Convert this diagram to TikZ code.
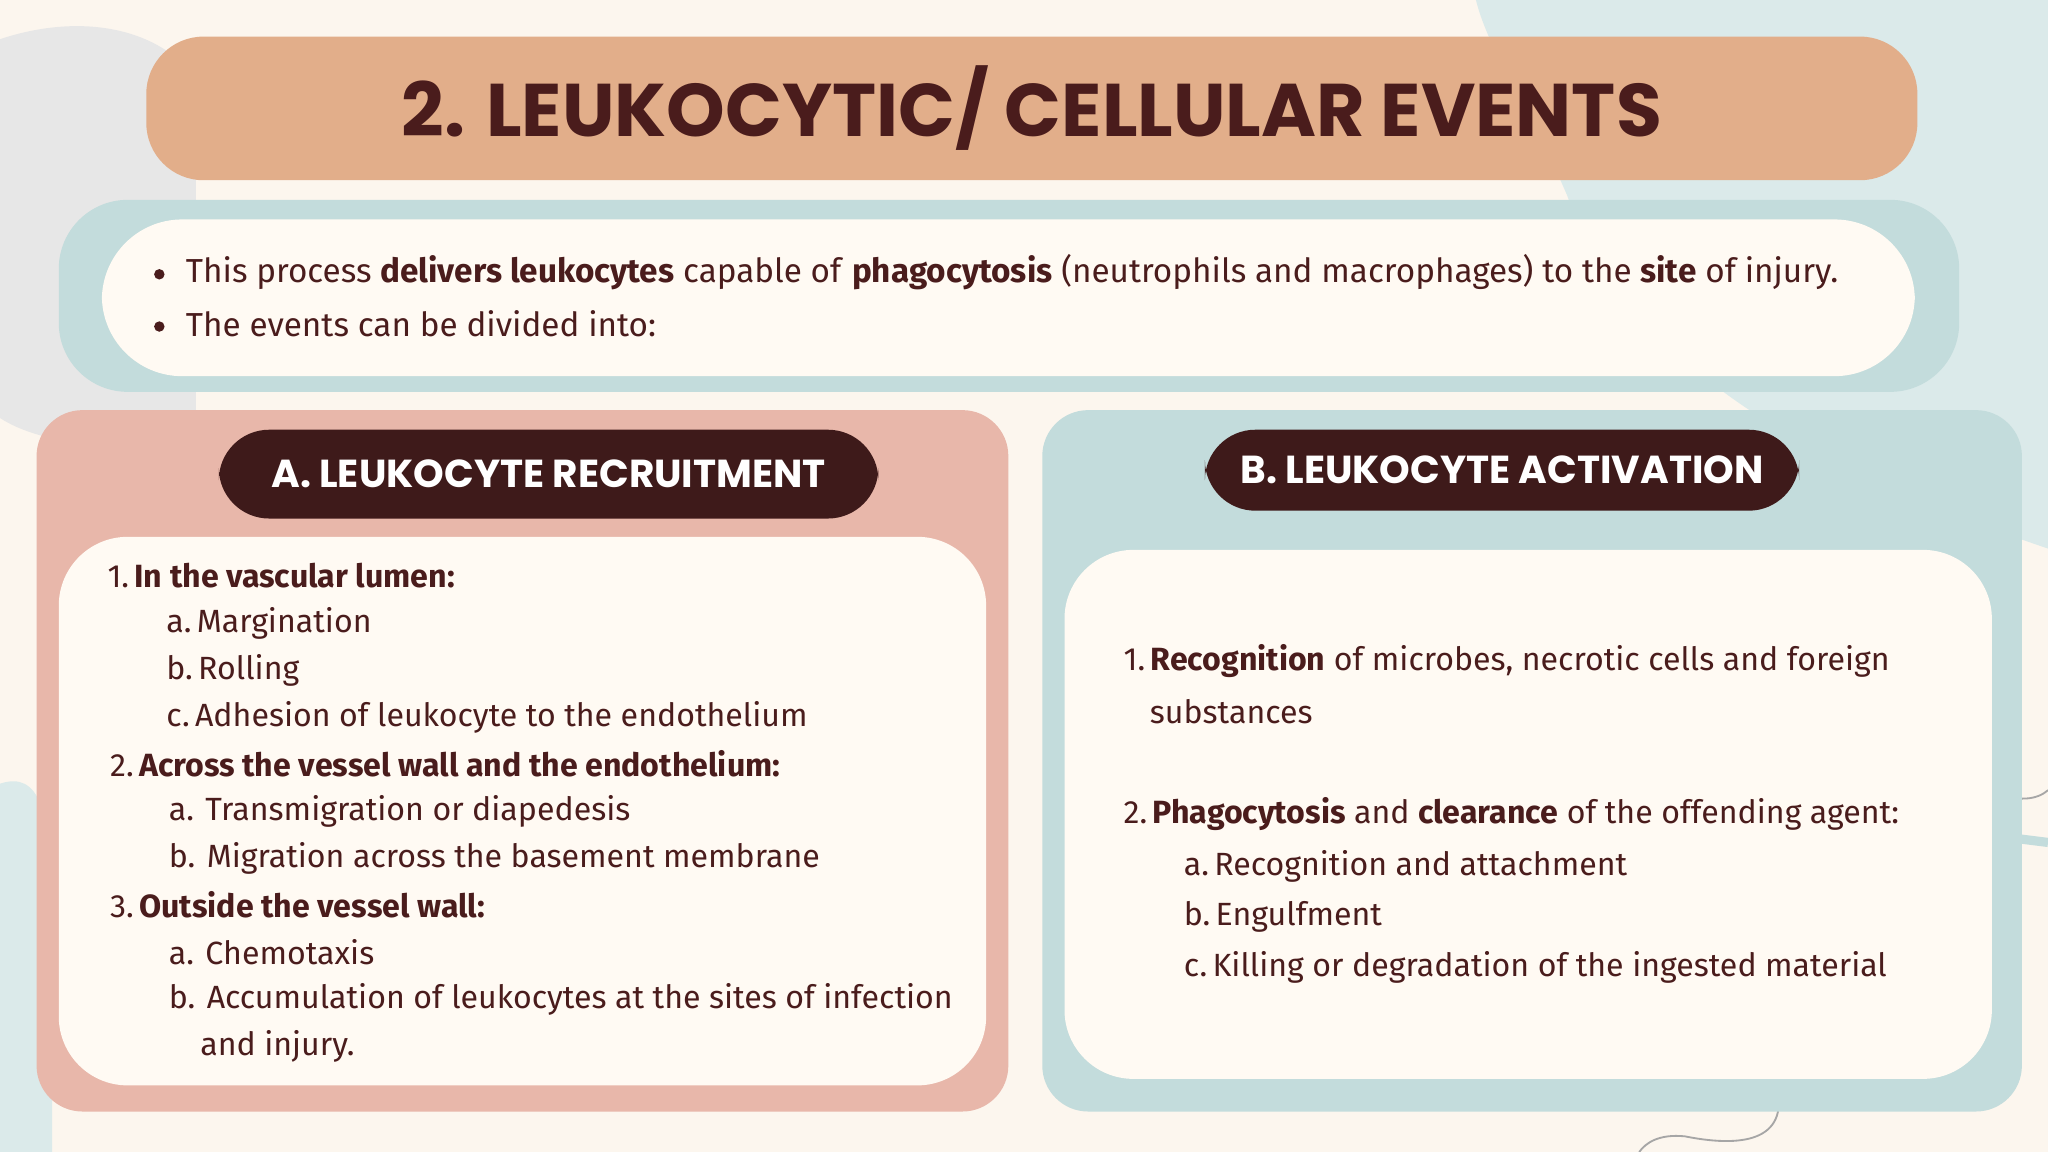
\documentclass[tikz,border=0pt]{standalone}
\usepackage{fontspec}
\setmainfont{Fira Sans}
\newfontfamily\titlefont{Poppins}[BoldFont={* Bold}]
\definecolor{bgc}{HTML}{FCF6EE}
\definecolor{titlec}{HTML}{E2AE8A}
\definecolor{ink}{HTML}{4A1C1C}
\definecolor{tealc}{HTML}{C3DCDC}
\definecolor{pinkc}{HTML}{E8B7AA}
\definecolor{innerc}{HTML}{FFFAF3}
\definecolor{pillc}{HTML}{3E1A1A}
\definecolor{greyb}{HTML}{DCDCDC}
\tikzset{
 txt/.style={anchor=west,inner sep=0pt,text=ink,font=\fontsize{14}{17}\selectfont},
 pilltxt/.style={text=white,font=\titlefont\bfseries\fontsize{17}{20}\selectfont},
}
\begin{document}
\begin{tikzpicture}[x=0.02cm,y=-0.02cm]
\fill[bgc] (0,0) rectangle (1568,882);
\useasboundingbox (0,0) rectangle (1568,882);
% background blobs
\fill[greyb!70] (0,30) .. controls (60,10) and (120,20) .. (150,60) -- (150,330) .. controls (100,350) and (30,340) .. (0,320) -- cycle;
\fill[tealc!60] (1130,0) -- (1568,0) -- (1568,420) .. controls (1450,380) and (1250,300) .. (1200,150) .. controls (1170,80) and (1140,40) .. (1130,0) -- cycle;
\fill[tealc!60] (0,600) .. controls (30,590) and (40,620) .. (40,700) -- (40,882) -- (0,882) -- cycle;
\draw[gray!70,thick] (1525,605) .. controls (1545,615) and (1560,612) .. (1568,605);
\draw[tealc,line width=4pt] (1528,640) -- (1568,645);
\draw[gray!70,thick] (1360,830) .. controls (1370,870) and (1340,880) .. (1290,870) .. controls (1270,868) and (1260,875) .. (1255,882);
\fill[pinkc!60] (1520,790) circle (15);
% title
\node[fill=titlec,rounded corners=25pt,minimum width=1356*0.02cm,minimum height=110*0.02cm,
  text=ink,font=\titlefont\bfseries\fontsize{32.5}{36}\selectfont] (title) at (790,83) {2. LEUKOCYTIC/ CELLULAR EVENTS};
% intro band
\fill[tealc,rounded corners=30pt] (45,153) rectangle (1500,300);
\fill[innerc,rounded corners=35pt] (78,168) rectangle (1466,288);
\node[txt,font=\fontsize{14.5}{17}\selectfont] (b1) at (142,208) {This process \textbf{delivers leukocytes} capable of \textbf{phagocytosis} (neutrophils and macrophages) to the \textbf{site} of injury.};
\node[txt,font=\fontsize{14.5}{17}\selectfont] (b2) at (142,248) {The events can be divided into:};
\fill[ink] (122,210) circle (4);
\fill[ink] (122,250) circle (4);
% left panel
\fill[pinkc,rounded corners=20pt] (28,314) rectangle (772,851);
\node[fill=pillc,rounded corners=22pt,minimum width=505*0.02cm,minimum height=68*0.02cm,pilltxt] (pa) at (420,363) {A. LEUKOCYTE RECRUITMENT};
\fill[innerc,rounded corners=30pt] (45,411) rectangle (755,831);
\node[txt] (l1) at (82,441) {1.\,\textbf{In the vascular lumen:}};
\node[txt] (l2) at (127,477) {a.\,Margination};
\node[txt] (l3) at (127,513) {b.\,Rolling};
\node[txt] (l4) at (127,549) {c.\,Adhesion of leukocyte to the endothelium};
\node[txt] (l5) at (84,585) {2.\,\textbf{Across the vessel wall and the endothelium:}};
\node[txt] (l6) at (129,621) {a. Transmigration or diapedesis};
\node[txt] (l7) at (129,657) {b. Migration across the basement membrane};
\node[txt] (l8) at (84,693) {3.\,\textbf{Outside the vessel wall:}};
\node[txt] (l9) at (129,729) {a. Chemotaxis};
\node[txt] (l10) at (129,765) {b. Accumulation of leukocytes at the sites of infection};
\node[txt] (l11) at (153,801) {and injury.};
% right panel
\fill[tealc,rounded corners=20pt] (798,314) rectangle (1548,851);
\node[fill=pillc,rounded corners=22pt,minimum width=455*0.02cm,minimum height=62*0.02cm,pilltxt] (pb) at (1150,360) {B. LEUKOCYTE ACTIVATION};
\fill[innerc,rounded corners=30pt] (815,421) rectangle (1525,826);
\node[txt] (r1) at (860,506) {1.\,\textbf{Recognition} of microbes, necrotic cells and foreign};
\node[txt] (r2) at (880,545) {substances};
\node[txt] (r3) at (860,623) {2.\,\textbf{Phagocytosis} and \textbf{clearance} of the offending agent:};
\node[txt] (r4) at (906,663) {a.\,Recognition and attachment};
\node[txt] (r5) at (906,702) {b.\,Engulfment};
\node[txt] (r6) at (906,741) {c.\,Killing or degradation of the ingested material};
\end{tikzpicture}
\end{document}
